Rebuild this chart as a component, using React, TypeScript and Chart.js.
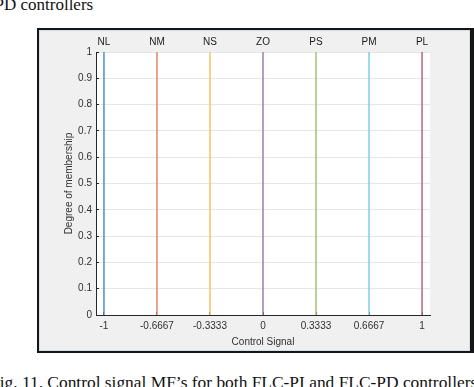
import React, { useEffect, useRef } from "react";
import { Chart, registerables } from "chart.js";

Chart.register(...registerables);

const mfNames = ["NL", "NM", "NS", "ZO", "PS", "PM", "PL"];
const mfCenters = [-1, -0.6667, -0.3333, 0, 0.3333, 0.6667, 1];
const membership = [0, 1];
const xTickValues = [-1, -0.6667, -0.3333, 0, 0.3333, 0.6667, 1];
const xTickLabels = ["-1", "-0.6667", "-0.3333", "0", "0.3333", "0.6667", "1"];
const yTickValues = [0, 0.1, 0.2, 0.3, 0.4, 0.5, 0.6, 0.7, 0.8, 0.9, 1];
const yTickLabels = ["0", "0.1", "0.2", "0.3", "0.4", "0.5", "0.6", "0.7", "0.8", "0.9", "1"];
const xRange = [-1.05, 1.05];

const lineColors = ["#4f8fcf", "#e28a62", "#eec46a", "#a47ab2", "#a0c474", "#80cbec", "#b8647c"];

const SANS = '"Liberation Sans", Arial, Helvetica, sans-serif';
const SERIF = '"Liberation Serif", "Times New Roman", serif';
const TXT = "#303030";

const plotBg = {
  id: "plotBg",
  beforeDraw(chart: any) {
    const { ctx, chartArea } = chart;
    ctx.save();
    ctx.fillStyle = "#ffffff";
    ctx.fillRect(chartArea.left, chartArea.top, chartArea.right - chartArea.left, chartArea.bottom - chartArea.top);
    ctx.restore();
  },
};

function MFChart() {
  const ref = useRef<HTMLCanvasElement | null>(null);
  useEffect(() => {
    if (!ref.current) return;
    const chart = new Chart(ref.current, {
      type: "line",
      data: {
        datasets: mfNames.map((name, i) => ({
          label: name,
          data: membership.map((m) => ({ x: mfCenters[i], y: m })),
          borderColor: lineColors[i],
          backgroundColor: lineColors[i],
          borderWidth: 1.5,
          pointRadius: 0,
          fill: false,
          tension: 0,
        })),
      },
      plugins: [plotBg],
      options: {
        responsive: false,
        animation: false,
        events: [],
        layout: { padding: { left: 0, right: 40, top: 0, bottom: 0 } },
        plugins: { legend: { display: false }, tooltip: { enabled: false }, title: { display: false } },
        scales: {
          x: {
            type: "linear",
            position: "bottom",
            min: xRange[0],
            max: xRange[1],
            afterBuildTicks: (s: any) => {
              s.ticks = xTickValues.map((v) => ({ value: v }));
            },
            afterFit: (s: any) => {
              s.height = 36;
            },
            ticks: {
              autoSkip: false,
              maxRotation: 0,
              padding: 8,
              color: TXT,
              font: { family: SANS, size: 10 },
              callback: (_v: any, i: number) => xTickLabels[i],
            },
            grid: { drawOnChartArea: false, drawTicks: true, tickLength: -3, tickColor: "#262626" },
            border: { display: true, color: "#262626", width: 1 },
            title: {
              display: true,
              text: "Control Signal",
              color: TXT,
              font: { family: SANS, size: 10 },
              padding: { top: 0, bottom: 3 },
            },
          },
          xTop: {
            type: "linear",
            position: "top",
            min: xRange[0],
            max: xRange[1],
            afterBuildTicks: (s: any) => {
              s.ticks = mfCenters.map((v) => ({ value: v }));
            },
            afterFit: (s: any) => {
              s.height = 22;
            },
            ticks: {
              autoSkip: false,
              maxRotation: 0,
              padding: -4,
              color: "#1a1a1a",
              font: { family: SANS, size: 10 },
              callback: (_v: any, i: number) => mfNames[i],
            },
            grid: { display: false },
            border: { display: false },
          },
          y: {
            type: "linear",
            min: 0,
            max: 1,
            afterBuildTicks: (s: any) => {
              s.ticks = yTickValues.map((v) => ({ value: v }));
            },
            afterFit: (s: any) => {
              s.width = 57;
            },
            ticks: {
              autoSkip: false,
              padding: 7,
              color: TXT,
              font: { family: SANS, size: 10 },
              callback: (_v: any, i: number) => yTickLabels[i],
            },
            grid: { color: "#e6e6e6", drawTicks: true, tickLength: -3, tickColor: "#262626" },
            border: { display: true, color: "#262626", width: 1 },
            title: {
              display: true,
              text: "Degree of membership",
              color: TXT,
              font: { family: SANS, size: 10 },
              padding: { top: 24, bottom: 0 },
            },
          },
        },
      } as any,
    });
    return () => chart.destroy();
  }, []);
  return <canvas ref={ref} width={431} height={321} style={{ display: "block", width: 431, height: 321 }} />;
}

export default function App() {
  return (
    <div
      style={{
        position: "fixed",
        left: 0,
        top: 0,
        width: 474,
        height: 387,
        overflow: "hidden",
        background: "#ffffff",
      }}
    >
      <div
        style={{
          position: "absolute",
          left: -5.5,
          top: -5,
          fontFamily: SERIF,
          fontSize: 17,
          lineHeight: "normal",
          color: "#111",
          whiteSpace: "nowrap",
        }}
      >
        PD controllers
      </div>
      <div
        style={{
          position: "absolute",
          left: 37,
          top: 28,
          width: 437,
          height: 325,
          boxSizing: "border-box",
          borderStyle: "solid",
          borderColor: "#151515",
          borderWidth: "2px 4px 2px 2px",
          background: "#f0f0f0",
          boxShadow: "inset 0 0 0 1px #d3e0ea",
        }}
      >
        <MFChart />
      </div>
      <div
        style={{
          position: "absolute",
          left: -10,
          top: 371.5,
          fontFamily: SERIF,
          fontSize: 17.4,
          lineHeight: "normal",
          color: "#111",
          whiteSpace: "nowrap",
        }}
      >
        Fig. 11. Control signal MF’s for both FLC-PI and FLC-PD controllers
      </div>
    </div>
  );
}
